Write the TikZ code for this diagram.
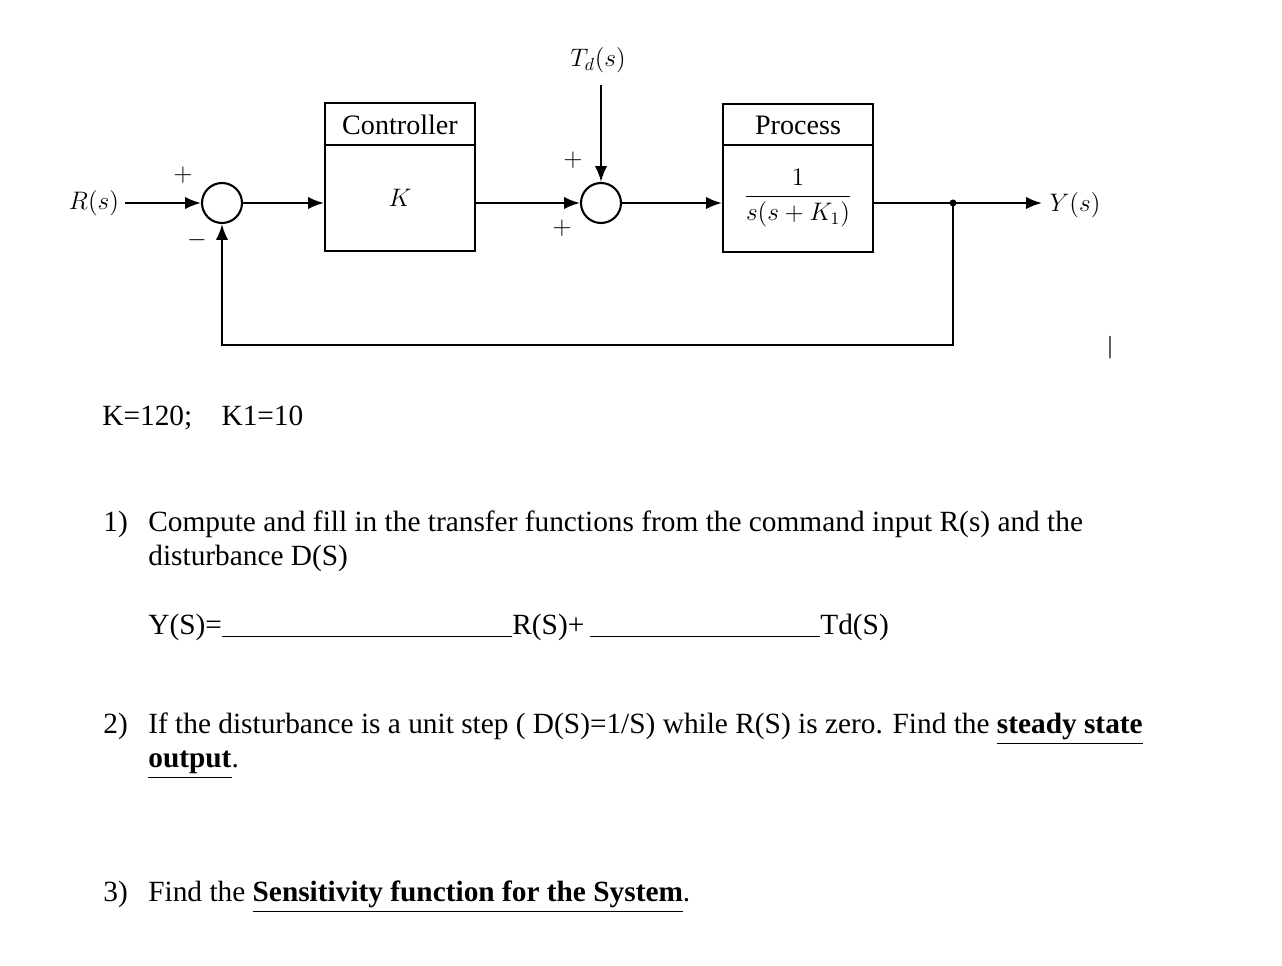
\documentclass[tikz,border=0pt]{standalone}
\usepackage{fontspec}
\setmainfont{Liberation Serif}
\usepackage{amsmath}
\usetikzlibrary{positioning,arrows.meta}
\begin{document}
\begin{tikzpicture}[x=0.02cm,y=-0.02cm,
  blk/.style={draw, line width=1.2pt, minimum width=150*0.02cm, minimum height=148*0.02cm, inner sep=0pt},
  sumj/.style={draw, line width=1.2pt, circle, minimum size=40*0.02cm, inner sep=0pt},
  sig/.style={-{Latex[length=9pt,width=7pt]}, line width=1.2pt},
  lbl/.style={font=\fontsize{14}{16}\selectfont},
  hdr/.style={font=\fontsize{16}{18}\selectfont},
  txt/.style={anchor=base west, inner sep=0pt, font=\fontsize{16.7}{19}\selectfont}]
\useasboundingbox (0,0) rectangle (1282,966);

% Blocks and summing junctions
\node[sumj] (s1) at (222,203) {};
\node[sumj] (s2) at (601,203) {};
\node[blk] (ctrl) at (400,177) {};
\node[blk] (proc) at (798,178) {};
\draw[line width=1.2pt] (ctrl.west |- 0,145) -- (ctrl.east |- 0,145);
\draw[line width=1.2pt] (proc.west |- 0,145) -- (proc.east |- 0,145);
\node[hdr] at (400,125) {Controller};
\node[hdr] at (798,125) {Process};
\node[lbl] at (400,198) {$K$};
\node[lbl] at (798,198) {$\dfrac{1}{s(s+K_1)}$};

% Signals
\node[lbl] (rin) at (94,203) {$R(s)$};
\node[lbl] (yout) at (1075,205) {$Y(s)$};
\node[lbl] (td) at (598,60) {$T_d(s)$};
\coordinate (tap) at (953,203);
\coordinate (yend) at (1042,203);
\draw[sig] (rin.east) -- (s1.west);
\draw[sig] (s1.east) -- (ctrl.west |- s1);
\draw[sig] (ctrl.east |- s2) -- (s2.west);
\draw[sig] (s2.east) -- (proc.west |- s2);
\draw[sig] (proc.east |- s2) -- (yend);
\draw[sig] (td.south) ++(3,6) -- (s2.north);
\draw[sig] (tap) -- (953,345) -- (222,345) -- (s1.south);
\fill (tap) circle (2pt);

% Signs
\node[lbl] at (183,175) {$+$};
\node[lbl] at (197,240) {$-$};
\node[lbl] at (573,160) {$+$};
\node[lbl] at (562,228) {$+$};
\node[lbl] at (1110,348) {|};

% Text
\node[txt] at (102,425) {K=120;\hspace{1em}K1=10};
\node[txt] at (103,531) {1)};
\node[txt] at (148,531) {Compute and fill in the transfer functions from the command input R(s) and the};
\node[txt] at (148,565) {disturbance D(S)};
\node[txt] (ys) at (148,634) {Y(S)=};
\draw (222,636) -- (512,636);
\node[txt] at (512,634) {R(S)+};
\draw (590,636) -- (820,636);
\node[txt] at (820,634) {Td(S)};
\node[txt] at (103,733) {2)};
\node[txt] at (148,733) {If the disturbance is a unit step ( D(S)=1/S) while R(S) is zero. Find the \underline{\textbf{steady state}}};
\node[txt] at (148,767) {\underline{\textbf{output}}.};
\node[txt] at (103,901) {3)};
\node[txt] at (148,901) {Find the \underline{\textbf{Sensitivity function for the System}}.};
\end{tikzpicture}
\end{document}
